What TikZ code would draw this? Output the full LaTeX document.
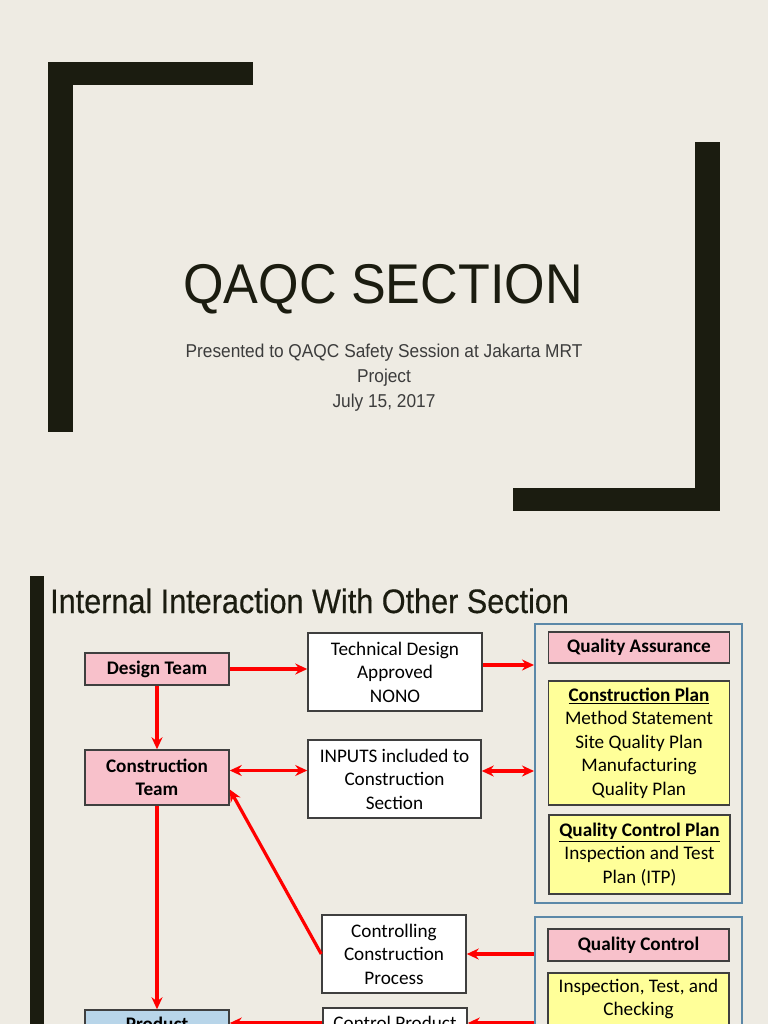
\documentclass[tikz,border=0pt]{standalone}
\usepackage{fontspec}
\setmainfont{Carlito}
\newfontfamily\slidefont[FakeStretch=0.93]{Liberation Sans}
\newfontfamily\headfont[FakeStretch=0.9,FakeBold=0.4]{Liberation Sans}
\usepackage{xcolor}
\usepackage{tikz}
\usetikzlibrary{arrows.meta,positioning,calc}
\definecolor{Paper}{HTML}{EEEBE3}
\definecolor{Ink}{HTML}{1B1C10}
\definecolor{Grey}{HTML}{3C3C3C}
\definecolor{Edge}{HTML}{3F3F3F}
\definecolor{Pink}{HTML}{F8C1CB}
\definecolor{Lemon}{HTML}{FFFF99}
\definecolor{Sky}{HTML}{B8D5E9}
\definecolor{Frame}{HTML}{5B88A8}
\definecolor{FlowRed}{HTML}{FF0000}
\tikzset{
  team/.style={draw=Edge,fill=Pink,line width=1.5pt,minimum width=144pt,align=center,inner sep=2pt,font=\bfseries\fontsize{19.2}{23.5}\selectfont},
  plain/.style={draw=Edge,fill=white,line width=1.5pt,align=center,inner sep=2pt,font=\fontsize{19.2}{23.5}\selectfont},
  plan/.style={draw=Edge,fill=Lemon,line width=1.5pt,minimum width=181pt,align=center,inner sep=2pt,font=\fontsize{19.2}{23.5}\selectfont},
  group/.style={draw=Frame,line width=2pt,minimum width=207pt},
  flow/.style={-{Stealth[length=12pt,width=11pt]},draw=FlowRed,line width=3.2pt},
  both/.style={{Stealth[length=12pt,width=11pt]}-{Stealth[length=12pt,width=11pt]},draw=FlowRed,line width=3.2pt},
  bar/.style={fill=Ink}
}
\begin{document}
\begin{tikzpicture}[x=1pt,y=-1pt]
  \useasboundingbox (0,0) rectangle (768,1024);
  \fill[Paper] (0,0) rectangle (768,1024);
  \clip (0,0) rectangle (768,1024);
  \fill[bar] (48,62) rectangle (253,85);
  \fill[bar] (48,62) rectangle (73,432);
  \fill[bar] (695,142) rectangle (720,511);
  \fill[bar] (513,488) rectangle (720,511);
  \node[anchor=base,text=Ink,font=\slidefont\fontsize{56}{60}\selectfont] (title) at (383,303) {QAQC SECTION};
  \node[align=center,text=Grey,font=\slidefont\fontsize{18.6}{25}\selectfont] (sub) at (384,378) {Presented to QAQC Safety Session at Jakarta MRT\\Project\\July 15, 2017};
  \fill[bar] (30,576) rectangle (44,1024);
  \node[anchor=base west,inner sep=0pt,text=Ink,font=\headfont\fontsize{34}{40}\selectfont] (head) at (50,613) {Internal Interaction With Other Section};
  \node[team,minimum height=32pt] (design) at (157,669) {Design Team};
  \node[team,minimum height=55pt] (cons) at (157,777.5) {Construction\\Team};
  \node[team,fill=Sky,minimum height=28pt] (prod) at (157,1024) {Product};
  \node[plain,minimum width=174pt,minimum height=78pt] (td) at (395,672) {Technical Design\\Approved\\NONO};
  \node[plain,minimum width=173pt,minimum height=78pt] (inp) at (394.5,779) {INPUTS included to\\Construction\\Section};
  \node[plain,minimum width=144pt,minimum height=78pt] (ccp) at (394,954) {Controlling\\Construction\\Process};
  \node[plain,minimum width=144pt,minimum height=30pt] (cprod) at (395,1023) {Control Product};
  \node[group,minimum height=279pt] (g1) at (638.5,763.5) {};
  \node[group,minimum height=126pt] (g2) at (638.5,980) {};
  \node[team,minimum width=181pt,minimum height=31pt] (qa) at (639,647.5) {Quality Assurance};
  \node[plan,minimum height=124pt] (cplan) at (639,743) {\underline{\textbf{Construction Plan}}\\Method Statement\\Site Quality Plan\\Manufacturing\\Quality Plan};
  \node[plan,minimum height=79pt] (qcp) at (639.5,854.5) {\underline{\textbf{Quality Control Plan}}\\Inspection and Test\\Plan (ITP)};
  \node[team,minimum width=181pt,minimum height=32pt] (qc) at (638.5,945) {Quality Control};
  \node[plan,anchor=north,inner ysep=6pt] (itc) at (638.5,972) {Inspection, Test, and\\Checking};
  \draw[flow] (design) -- (design -| td.west);
  \draw[flow] (design) -- (cons);
  \draw[flow] (cons) -- (prod);
  \draw[flow] ([yshift=7pt]td.east) -- ([yshift=7pt]td.east -| g1.west);
  \draw[both] ([yshift=7pt]cons.east) -- ([yshift=7pt]cons.east -| inp.west);
  \draw[both] ([yshift=8pt]inp.east) -- ([yshift=8pt]inp.east -| g1.west);
  \draw[flow] (ccp.west) -- ([yshift=-12pt]cons.east);
  \draw[flow] (ccp.east -| g2.west) -- (ccp.east);
  \draw[flow] (cprod.east -| g2.west) -- (cprod.east);
  \draw[flow] (cprod.west) -- (cprod.west -| prod.east);
\end{tikzpicture}
\end{document}
